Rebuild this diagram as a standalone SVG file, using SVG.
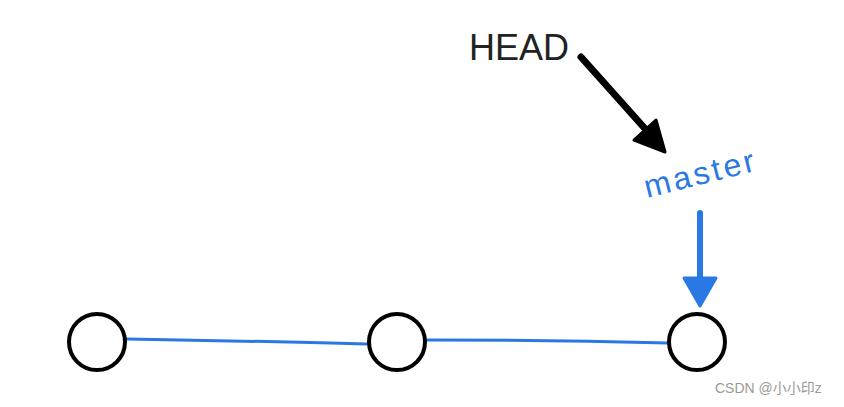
<svg xmlns="http://www.w3.org/2000/svg" width="844" height="407" viewBox="0 0 844 407">
<style>
.node{fill:#fff;stroke:#000;stroke-width:4}
.link{stroke:#2a78e4;stroke-width:3;fill:none;stroke-linecap:round}
</style>
<rect width="844" height="407" fill="#fff"/>
<g id="connectors">
<path class="link" d="M127,339 Q250,341 367,344"/>
<path class="link" d="M427,340 Q550,340 667,343"/>
<g id="head-arrow">
<line x1="581" y1="57" x2="648" y2="132" stroke="#000" stroke-width="7" stroke-linecap="round"/>
<polygon points="665,152 634,140 656,120" fill="#000" stroke="#000" stroke-width="3" stroke-linejoin="round"/>
</g>
<g id="master-arrow">
<line x1="700" y1="213" x2="700" y2="282" stroke="#2a78e4" stroke-width="6" stroke-linecap="round"/>
<polygon points="684,278 716,278 700,306" fill="#2a78e4" stroke="#2a78e4" stroke-width="3" stroke-linejoin="round"/>
</g>
</g>
<g id="c1"><circle class="node" cx="97" cy="342" r="28"/></g>
<g id="c2"><circle class="node" cx="397" cy="342" r="28"/></g>
<g id="c3"><circle class="node" cx="697" cy="342" r="28"/></g>
<g id="head"><text x="469" y="60" font-family="Liberation Sans, Arial, sans-serif" font-size="36" fill="#222">HEAD</text></g>
<g id="master"><text x="647" y="198" font-family="Liberation Sans, Arial, sans-serif" font-size="32" letter-spacing="3" fill="#2a78e4" transform="rotate(-14 647 198)">master</text></g>
<text x="715" y="393" font-family="Liberation Sans, 'Noto Sans CJK SC', sans-serif" font-size="14" fill="#999">CSDN @小小印z</text>
</svg>
